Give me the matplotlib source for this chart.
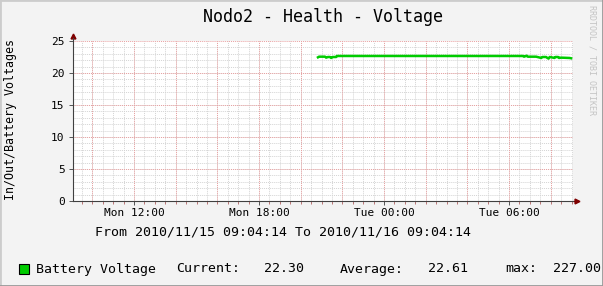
import matplotlib
matplotlib.use("Agg")
import matplotlib.pyplot as plt
from matplotlib.lines import Line2D
import numpy as np

# Data: hours since Monday 00:00 and battery voltage readings
hours = [20.83, 20.88, 21.17, 21.22, 21.31, 21.41, 21.46, 21.55, 21.70, 21.74,
         24.0, 27.0, 30.68, 30.72, 30.85, 30.90, 31.30, 31.55, 31.60, 31.78,
         31.84, 31.90, 31.95, 32.04, 32.18, 32.22, 32.36, 32.40, 32.50, 32.90, 32.98]
volts = [22.45, 22.55, 22.55, 22.40, 22.50, 22.50, 22.35, 22.50, 22.50, 22.66,
         22.66, 22.66, 22.66, 22.55, 22.70, 22.55, 22.55, 22.35, 22.50, 22.50,
         22.35, 22.25, 22.50, 22.45, 22.35, 22.50, 22.50, 22.35, 22.40, 22.35, 22.30]

t_start = 9 + 4 / 60 + 14 / 3600
t_end = t_start + 24
xtick_pos = [12, 18, 24, 30]
xtick_lbl = ["Mon 12:00", "Mon 18:00", "Tue 00:00", "Tue 06:00"]
ytick_pos = [0, 5, 10, 15, 20, 25]

title = "Nodo2 - Health - Voltage"
ylabel = "In/Out/Battery Voltages"
span_text = "From 2010/11/15 09:04:14 To 2010/11/16 09:04:14"
legend_name = "Battery Voltage"
stats = [("Current:", "22.30"), ("Average:", "22.61"), ("max:", "227.00")]

W, H = 603, 286
fig = plt.figure(figsize=(W / 100, H / 100), dpi=100, facecolor="#F3F3F3")
mono = "DejaVu Sans Mono"

ax = fig.add_axes([73 / W, (H - 201) / H, 500 / W, 160 / H])
ax.set_facecolor("white")

# grid
minor_c = "#D4D4D4"
major_c = "#E9A0A0"
for h in np.arange(9.5, t_end, 0.5):
    ax.axvline(h, color=minor_c, lw=0.7, ls=(0, (1, 1)), zorder=1)
for v in range(1, 25):
    ax.axhline(v, color=minor_c, lw=0.7, ls=(0, (1, 1)), zorder=1)
for h in range(10, 34, 2):
    ax.axvline(h, color=major_c, lw=0.7, ls=(0, (1, 1)), zorder=1)
for v in ytick_pos[1:]:
    ax.axhline(v, color=major_c, lw=0.7, ls=(0, (1, 1)), zorder=1)

ax.plot(hours, volts, color="#00CC00", lw=1.8, zorder=3)

ax.set_xlim(t_start, t_end)
ax.set_ylim(0, 25)
ax.set_xticks(xtick_pos)
ax.set_xticklabels(xtick_lbl, fontfamily=mono, fontsize=8)
ax.set_xticks(np.arange(9.5, t_end, 0.5), minor=True)
ax.set_yticks(ytick_pos)
ax.set_yticklabels([str(v) for v in ytick_pos], fontfamily=mono, fontsize=8)
ax.tick_params(axis="both", which="major", length=3, width=0.7, color="#555555", pad=3)
ax.tick_params(axis="x", which="minor", length=2, width=0.6, color="#B06060")
ax.tick_params(axis="x", pad=2)

for s in ["top", "right"]:
    ax.spines[s].set_visible(False)
for s in ["left", "bottom"]:
    ax.spines[s].set_color("#404040")
    ax.spines[s].set_linewidth(0.8)
ax.spines["left"].set_bounds(0, 25.5)

# axis arrows
ax.plot([0], [1.03], marker="^", ms=3.5, color="#7F0000", transform=ax.transAxes, clip_on=False)
ax.plot([1.008], [0], marker=">", ms=3.5, color="#7F0000", transform=ax.transAxes, clip_on=False)
ax.plot([1.0, 1.008], [0, 0], color="#7F0000", lw=0.8, transform=ax.transAxes, clip_on=False)

# texts
fig.text(323 / W, 1 - 17 / H, title, ha="center", va="center", fontfamily=mono, fontsize=12)
fig.text(11 / W, 1 - 119 / H, ylabel, ha="center", va="center", rotation=90, fontfamily=mono, fontsize=8.4)
fig.text(95 / W, 1 - 232 / H, span_text, ha="left", va="center", fontfamily=mono, fontsize=9.5)
fig.text(592 / W, 1 - 5 / H, "RRDTOOL / TOBI OETIKER", ha="center", va="top", rotation=270,
         fontfamily=mono, fontsize=6, color="#C4C4C4")

ly = 1 - 269 / H
fig.add_artist(plt.Rectangle((19 / W, 1 - 274 / H), 10 / W, 10 / H, transform=fig.transFigure,
                             facecolor="#00CC00", edgecolor="black", lw=0.8))
fig.text(36 / W, ly, legend_name, ha="left", va="center", fontfamily=mono, fontsize=9.5)
lab_x = [176, 340, 505]
val_x = [304, 468, 601]
for (lab, val), lx, vx in zip(stats, lab_x, val_x):
    fig.text(lx / W, ly, lab, ha="left", va="center", fontfamily=mono, fontsize=9.5)
    fig.text(vx / W, ly, val, ha="right", va="center", fontfamily=mono, fontsize=9.5)

# 3D border of the canvas
fig.add_artist(Line2D([0, 0, 1], [0, 1, 1], transform=fig.transFigure, color="#CCCCCC", lw=2))
fig.add_artist(Line2D([0, 1, 1], [0, 0, 1], transform=fig.transFigure, color="#999999", lw=2))

fig.savefig("out.png", dpi=100, facecolor=fig.get_facecolor())
